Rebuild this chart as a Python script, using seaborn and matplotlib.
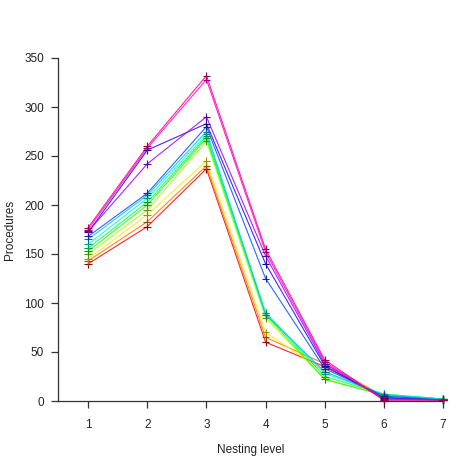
import colorsys
import matplotlib
matplotlib.use("Agg")
import matplotlib.pyplot as plt
import pandas as pd
import seaborn as sns

# nesting levels on the x axis
levels = [1, 2, 3, 4, 5, 6, 7]

# procedures per nesting level, one list per release
s01 = [140, 178, 237, 60, 35, 4, 1]
s02 = [143, 183, 240, 65, 38, 5, 1]
s03 = [145, 190, 245, 70, 30, 5, 2]
s04 = [150, 195, 265, 85, 22, 6, 2]
s05 = [153, 200, 268, 88, 22, 6, 2]
s06 = [156, 203, 270, 90, 25, 7, 2]
s07 = [160, 207, 272, 90, 28, 7, 2]
s08 = [165, 210, 275, 88, 30, 6, 2]
s09 = [168, 212, 280, 125, 33, 5, 1]
s10 = [172, 256, 283, 140, 36, 3, 1]
s11 = [173, 242, 290, 148, 38, 2, 1]
s12 = [175, 258, 328, 152, 40, 1, 1]
s13 = [177, 260, 332, 155, 42, 1, 1]
series = [s01, s02, s03, s04, s05, s06, s07, s08, s09, s10, s11, s12, s13]

# long-form table for seaborn
rows = []
for i, vals in enumerate(series):
    for lv, v in zip(levels, vals):
        rows.append({"series": i, "level": lv, "procedures": v})
df = pd.DataFrame(rows)

# R-style rainbow palette, points a bit darker than lines
n = len(series)
palette = [colorsys.hsv_to_rgb(i / n, 1, 1) for i in range(n)]
point_pal = [colorsys.hsv_to_rgb(i / n, 1, 0.6) for i in range(n)]

sns.set_style("ticks")
plt.rcParams["font.family"] = ["Liberation Sans", "DejaVu Sans"]

fig = plt.figure(figsize=(4.74, 4.74), dpi=100)
ax = fig.add_axes([58 / 474, (474 - 401) / 474, (443 - 58) / 474, (401 - 58) / 474])

sns.lineplot(data=df, x="level", y="procedures", hue="series", palette=palette,
             linewidth=0.8, alpha=0.85, legend=False, ax=ax, clip_on=False)
sns.scatterplot(data=df, x="level", y="procedures", hue="series", palette=point_pal,
                marker="+", s=30, linewidth=0.8, legend=False, ax=ax, clip_on=False,
                zorder=3)

ax.set_xlim(0.49, 7)
ax.set_ylim(0, 350)
ax.set_xticks(levels)
ax.set_yticks(range(0, 351, 50))
sns.despine(ax=ax)
for sp in ax.spines.values():
    sp.set_linewidth(0.9)
    sp.set_color("#333333")
ax.tick_params(axis="both", length=5, width=0.9, color="#333333", labelsize=8.5, labelcolor="#222222")
ax.tick_params(axis="x", pad=8)
ax.tick_params(axis="y", pad=5)

ax.set_xlabel("Nesting level", fontsize=8.5, labelpad=9, color="#222222")
ax.set_ylabel("Procedures", fontsize=8.5, labelpad=6, color="#222222")

fig.savefig("out.png", dpi=100)
